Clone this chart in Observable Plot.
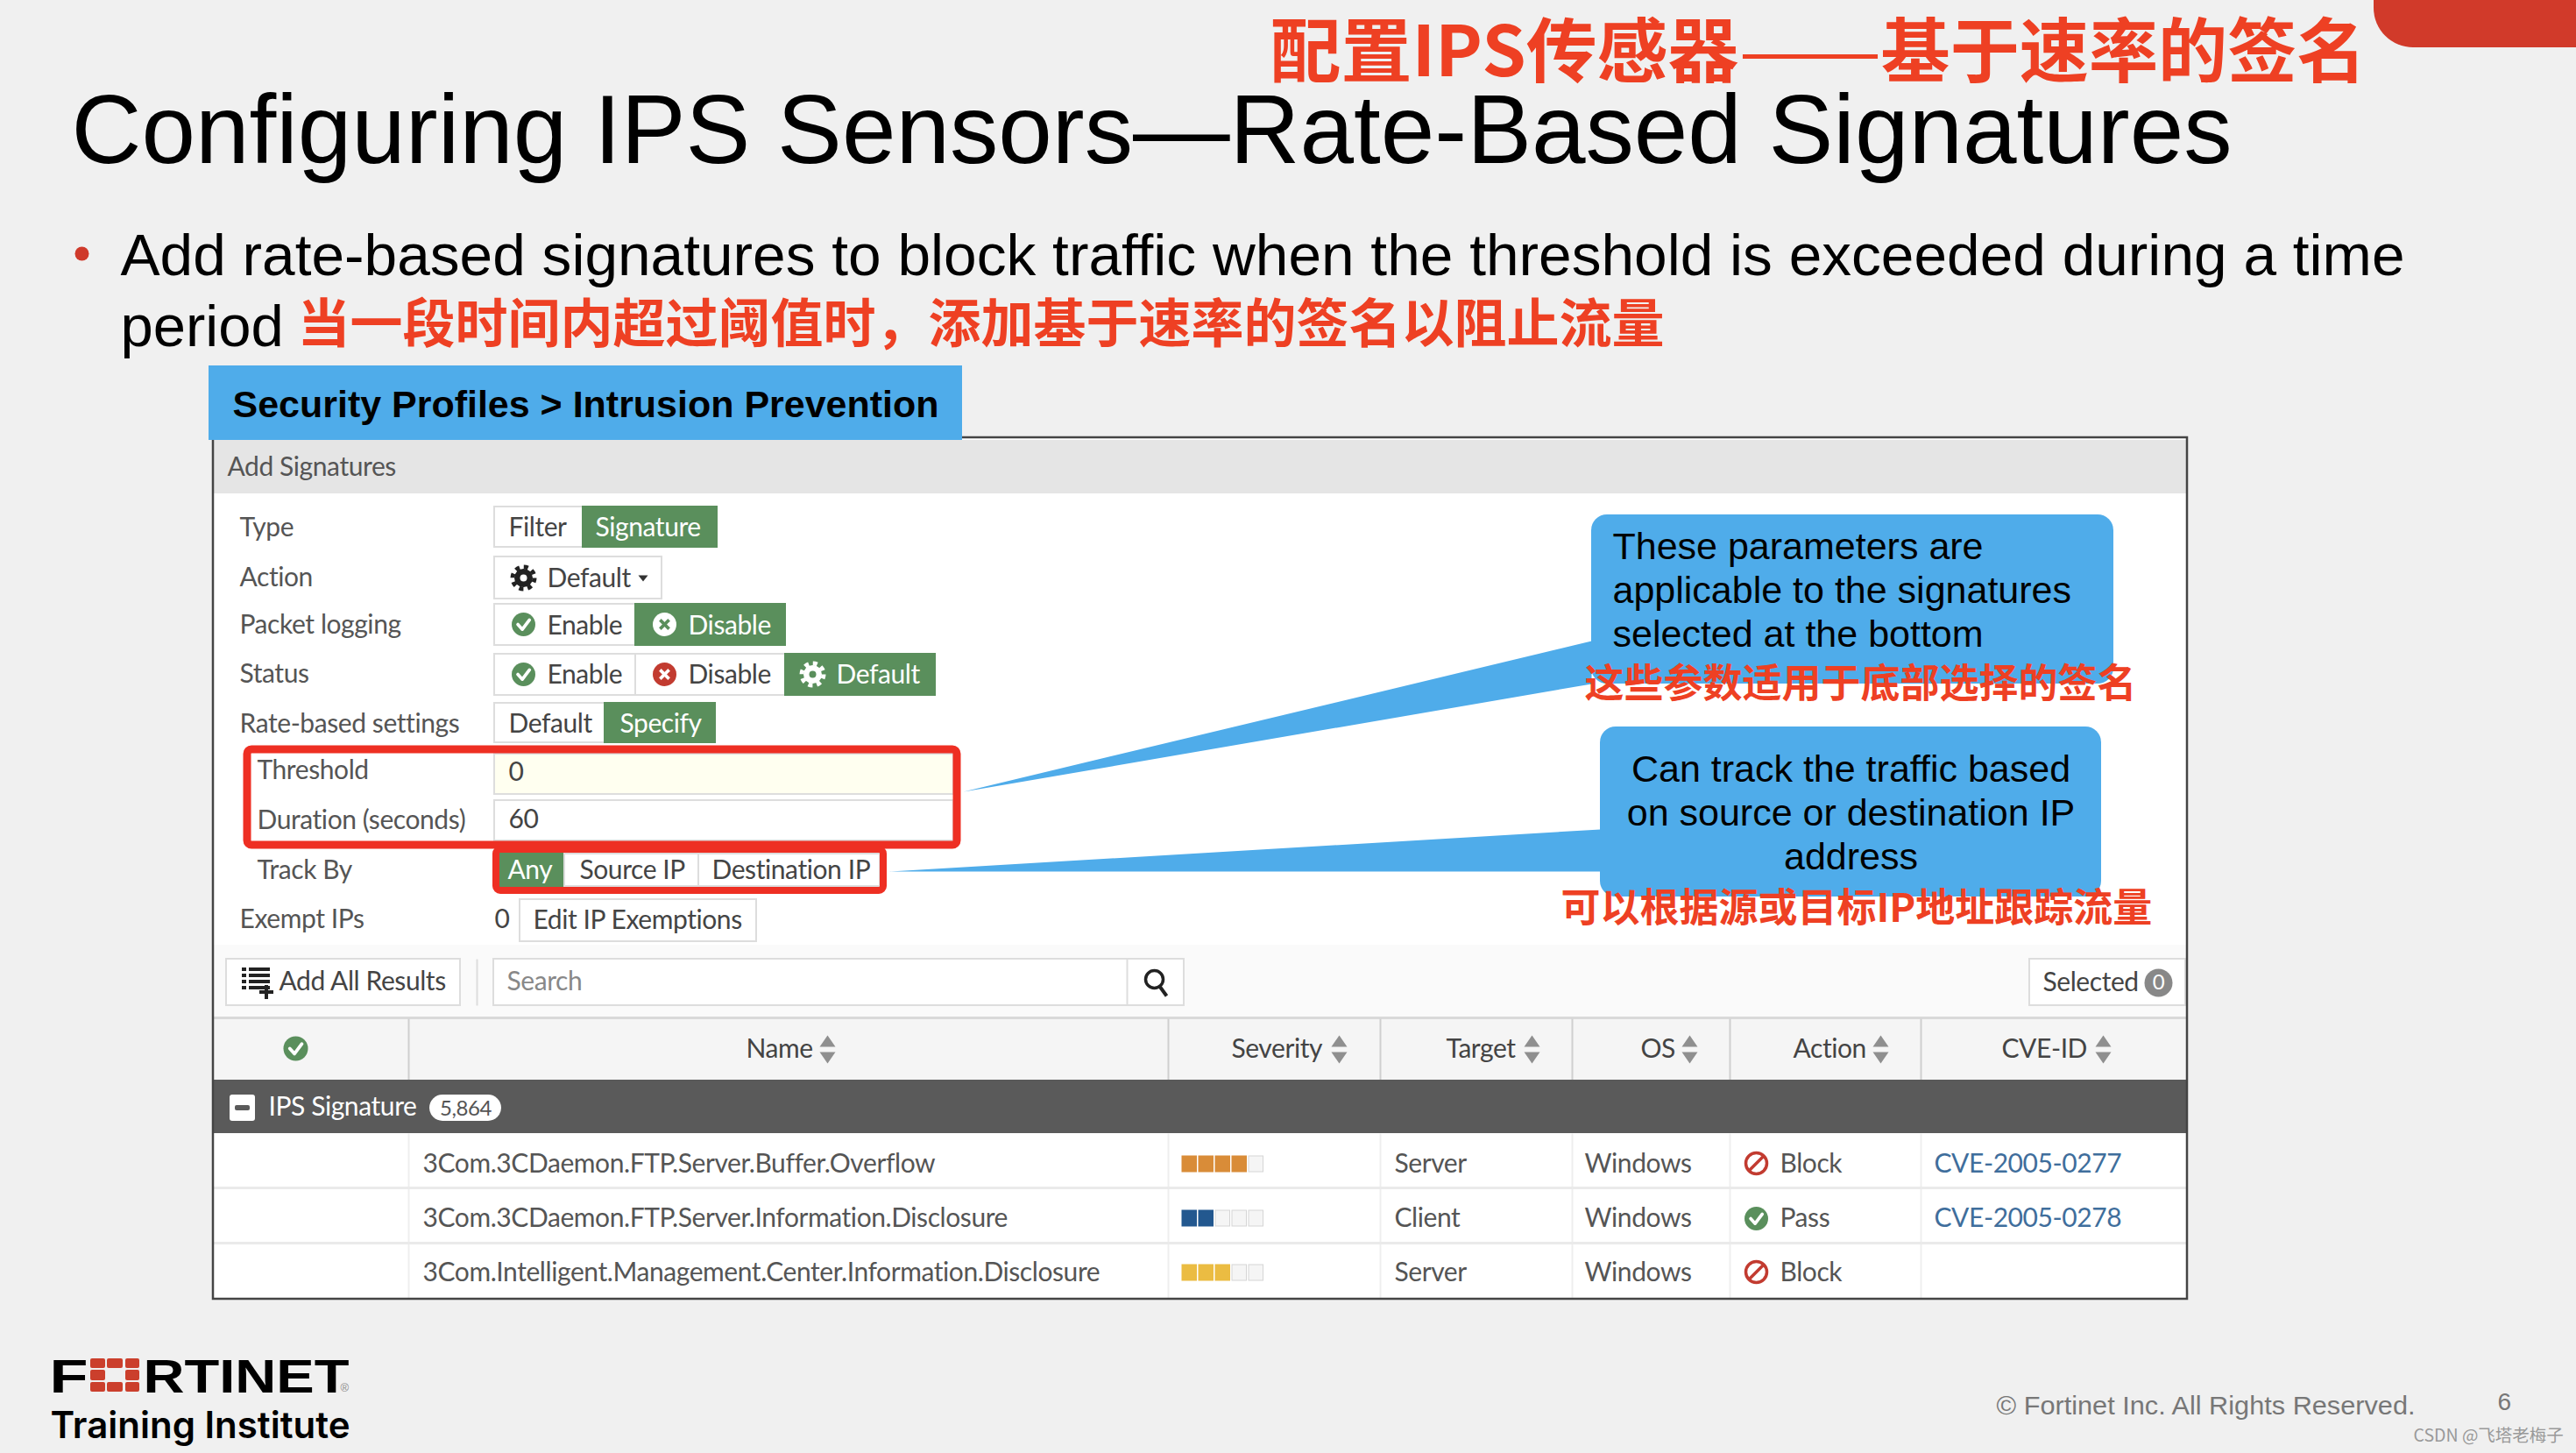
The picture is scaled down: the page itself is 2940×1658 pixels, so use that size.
<!DOCTYPE html>
<html>
<head>
<meta charset="utf-8">
<script src="https://cdn.jsdelivr.net/npm/d3@7"></script>
<script src="https://cdn.jsdelivr.net/npm/@observablehq/plot@0.6"></script>
<style>
  html, body { margin: 0; background: #f0f0f0; overflow: hidden; }
  svg { display: block; }
  g[font-family="Lato"] { letter-spacing: -0.42px; }
</style>
</head>
<body>
<div id="chart"></div>
<script>
// slide texts
const titleEn = 'Configuring IPS Sensors—Rate-Based Signatures'
const titleZh = ['配置IPS传感器', '——', '基于速率的签名']
const bulletLine1 = 'Add rate-based signatures to block traffic when the threshold is exceeded during a time'
const bulletLine2 = 'period'
const bulletZh = '当一段时间内超过阈值时，添加基于速率的签名以阻止流量'
const tabText = 'Security Profiles > Intrusion Prevention'
const panelTitle = 'Add Signatures'

// form
const formLabels = ['Type', 'Action', 'Packet logging', 'Status', 'Rate-based settings', 'Threshold', 'Duration (seconds)', 'Track By', 'Exempt IPs']
const typeOptions = ['Filter', 'Signature']
const actionOptions = ['Default']
const loggingOptions = ['Enable', 'Disable']
const statusOptions = ['Enable', 'Disable', 'Default']
const rateOptions = ['Default', 'Specify']
const trackOptions = ['Any', 'Source IP', 'Destination IP']
const thresholdValue = '0'
const durationValue = '60'
const exemptCount = '0'
const exemptButton = 'Edit IP Exemptions'

// toolbar
const addAllText = 'Add All Results'
const searchText = 'Search'
const selectedText = 'Selected'
const selectedCount = '0'

// signature table
const columns = ['Name', 'Severity', 'Target', 'OS', 'Action', 'CVE-ID']
const groupName = 'IPS Signature'
const groupCount = '5,864'
const names = ['3Com.3CDaemon.FTP.Server.Buffer.Overflow', '3Com.3CDaemon.FTP.Server.Information.Disclosure', '3Com.Intelligent.Management.Center.Information.Disclosure']
const severities = [4, 2, 3]
const targets = ['Server', 'Client', 'Server']
const systems = ['Windows', 'Windows', 'Windows']
const actions = ['Block', 'Pass', 'Block']
const cves = ['CVE-2005-0277', 'CVE-2005-0278', '']

// callouts
const note1 = ['These parameters are', 'applicable to the signatures', 'selected at the bottom']
const note1Zh = '这些参数适用于底部选择的签名'
const note2 = ['Can track the traffic based', 'on source or destination IP', 'address']
const note2Zh = '可以根据源或目标IP地址跟踪流量'

// footer
const logoLetters = ['F', 'RTINET']
const instituteText = 'Training Institute'
const copyrightText = '© Fortinet Inc. All Rights Reserved.'
const pageNumber = '6'
const watermark = 'CSDN @飞塔老梅子'

// colours
const red = '#ee4023'
const boxRed = '#ee2f23'
const blue = '#4facea'
const green = '#5a8f5c'
const severityColor = {4: '#d98c38', 2: '#23588f', 3: '#ebbc42'}

const marks = []

const box = (x1, y1, x2, y2, fill, opts = {}) =>
  marks.push(Plot.rect([{x1, y1, x2, y2}], {x1: 'x1', y1: 'y1', x2: 'x2', y2: 'y2', fill, ...opts}))

const poly = (points, fill) =>
  marks.push(Plot.line(points, {x: d => d[0], y: d => d[1], fill, stroke: 'none'}))

const stroke = (points, color, strokeWidth) =>
  marks.push(Plot.line(points, {x: d => d[0], y: d => d[1], stroke: color, strokeWidth}))

const seg = (x1, y1, x2, y2, color, strokeWidth = 2) =>
  marks.push(Plot.link([{x1, y1, x2, y2}], {x1: 'x1', y1: 'y1', x2: 'x2', y2: 'y2', stroke: color, strokeWidth}))

const disc = (x, y, r, opts) =>
  marks.push(Plot.dot([{x, y}], {x: 'x', y: 'y', r, ...opts}))

// y is the vertical centre of the line; fit squeezes the text to a width
const say = (text, x, y, size, fill, family, {fit, ...opts} = {}) =>
  marks.push(Plot.text([{text, x, y}], {
    x: 'x', y: 'y', text: 'text', fontSize: size, fill, fontFamily: family, textAnchor: 'start',
    className: fit ? `fit-${fit}` : undefined, ...opts
  }))

const arial = 'Liberation Sans'
const cjk = 'Noto Sans CJK SC'
const lato = 'Lato'
const baseline = (y, size) => y - 0.32 * size

const check = (x, y, r, fill = green) => {
  disc(x, y, r, {fill})
  stroke([[x - r * 0.48, y], [x - r * 0.1, y + r * 0.42], [x + r * 0.5, y - r * 0.38]], '#fff', r * 0.27)
}
const cross = (x, y, r, fill, color) => {
  disc(x, y, r, {fill})
  seg(x - r * 0.38, y - r * 0.38, x + r * 0.38, y + r * 0.38, color, r * 0.27)
  seg(x - r * 0.38, y + r * 0.38, x + r * 0.38, y - r * 0.38, color, r * 0.27)
}
const gear = (x, y, color, hole) => {
  disc(x, y, 10.5, {fill: color})
  disc(x, y, 12.5, {stroke: color, strokeWidth: 5, strokeDasharray: '5,4.8', fill: 'none'})
  disc(x, y, 4, {fill: hole})
}
const sortArrows = (x, y) => {
  poly([[x - 9, y - 3], [x + 9, y - 3], [x, y - 16]], '#8f8f8f')
  poly([[x - 9, y + 3], [x + 9, y + 3], [x, y + 16]], '#8f8f8f')
}

// top of the slide
box(2709, -80, 3040, 54, '#d13a2a', {rx: 45})
say(titleEn, 81, baseline(185, 111), 111, '#000', arial, {fit: 2466})
say(titleZh[0], 1449, 61, 80, red, cjk, {fontWeight: 'bold', fit: 535})
say(titleZh[1], 1984, 61, 80, red, cjk, {fit: 163})
say(titleZh[2], 2146, 61, 80, red, cjk, {fontWeight: 'bold', fit: 554})
disc(93, 289, 8, {fill: '#cf3a2b'})
say(bulletLine1, 137, baseline(313, 67), 67, '#000', arial, {fit: 2607})
say(bulletLine2, 137, baseline(394, 67), 67, '#000', arial)
say(bulletZh, 339, 371, 60, red, cjk, {fontWeight: 'bold'})

// panel
box(243, 499, 2496, 1482, '#fff')
box(243, 502, 2496, 563, '#e5e5e5')
say(panelTitle, 259, 533, 30, '#555', lato)

// form
const rowY = [602, 659, 713, 769, 826, 879, 936, 993, 1049]
const labelX = [273, 273, 273, 273, 273, 293, 293, 293, 273]
formLabels.forEach((d, i) => say(d, labelX[i], rowY[i], 30, '#555', lato))

const buttonGroup = (options, edges, y1, y2, active, textX, textY) => {
  options.forEach((d, i) => {
    box(edges[i], y1, edges[i + 1], y2, i === active ? green : '#fff', {stroke: i === active ? green : '#ddd', strokeWidth: 2})
    say(d, textX[i], textY, 30, i === active ? '#fff' : '#444', lato)
  })
}
buttonGroup(typeOptions, [564, 665, 818], 578, 624, 1, [580, 679], 602)
buttonGroup(actionOptions, [564, 755], 635, 683, -1, [624, 0], 660)
gear(597, 659, '#222', '#fff')
poly([[728, 656], [739, 656], [733.5, 663]], '#333')
buttonGroup(loggingOptions, [564, 725, 896], 689, 736, 1, [624, 785], 714)
check(597, 712, 13.5)
cross(758, 712, 13.5, '#fff', green)
buttonGroup(statusOptions, [564, 725, 896, 1067], 746, 793, 2, [624, 785, 954], 770)
check(597, 769, 13.5)
cross(758, 769, 13.5, '#c23b30', '#fff')
gear(927, 769, '#fff', green)
buttonGroup(rateOptions, [564, 690, 816], 802, 847, 1, [580, 707], 826)

box(564, 860, 1088, 906, '#fffff0', {stroke: '#ddd', strokeWidth: 2})
box(564, 913, 1088, 959, '#fff', {stroke: '#ddd', strokeWidth: 2})
say(thresholdValue, 580, 881, 30, '#444', lato)
say(durationValue, 580, 935, 30, '#444', lato)
box(282, 855, 1092, 964, 'none', {stroke: boxRed, strokeWidth: 9, rx: 5})

buttonGroup(trackOptions, [570, 644, 797, 1004], 974, 1011, 0, [579, 661, 812], 993)
box(566, 969, 1008, 1016, 'none', {stroke: boxRed, strokeWidth: 8, rx: 5})

say(exemptCount, 564, 1049, 30, '#444', lato)
box(593, 1026, 863, 1074, '#fff', {stroke: '#ddd', strokeWidth: 2})
say(exemptButton, 608, 1050, 30, '#444', lato)

// toolbar
box(243, 1078, 2496, 1160, '#fafafa')
box(258, 1094, 525, 1147, '#fff', {stroke: '#ddd', strokeWidth: 2})
for (const y of [1106, 1113, 1120, 1127]) {
  box(276, y - 2, 281, y + 2, '#222')
  box(284, y - 2, 308, y + 2, '#222')
}
box(302, 1124, 306, 1140, '#222')
box(296, 1130, 312, 1134, '#222')
say(addAllText, 318, 1120, 30, '#444', lato)
seg(544, 1094, 544, 1147, '#ddd')
box(563, 1094, 1351, 1147, '#fff', {stroke: '#ddd', strokeWidth: 2})
seg(1286, 1094, 1286, 1147, '#ddd')
say(searchText, 578, 1120, 30, '#888', lato)
disc(1317, 1117, 10, {stroke: '#222', strokeWidth: 3.5, fill: 'none'})
seg(1323, 1125, 1331, 1136, '#222', 4)
box(2316, 1094, 2494, 1147, '#fff', {stroke: '#ddd', strokeWidth: 2})
say(selectedText, 2331, 1121, 30, '#444', lato)
disc(2463, 1121, 16, {fill: '#888'})
say(selectedCount, 2463, 1121, 24, '#fff', lato, {textAnchor: 'middle'})

// table
const colEdges = [243, 466, 1333, 1575, 1794, 1974, 2192, 2496]
const headTextX = [851, 1405, 1650, 1872, 2046, 2284]
const headArrowX = [944, 1528, 1748, 1928, 2146, 2400]
const tableRowY = [1328, 1390, 1452]

box(243, 1162, 2496, 1232, '#f5f5f5')
seg(243, 1161, 2496, 1161, '#d9d9d9', 3)
colEdges.slice(1, -1).forEach(x => seg(x, 1162, x, 1232, '#cfcfcf', 2))
check(337, 1196, 14)
columns.forEach((d, i) => {
  say(d, headTextX[i], 1197, 30, '#444', lato)
  sortArrows(headArrowX[i], 1197)
})

colEdges.slice(1, -1).forEach(x => seg(x, 1293, x, 1482, '#eee', 2))
seg(243, 1355, 2496, 1355, '#eaeaea', 3)
seg(243, 1418, 2496, 1418, '#eaeaea', 3)

box(243, 1232, 2496, 1293, '#5a5a5a')
box(262, 1249, 291, 1279, '#fff', {rx: 3})
box(268, 1261, 285, 1267, '#5a5a5a', {rx: 2})
say(groupName, 306, 1263, 30, '#fff', lato)
box(490, 1249, 572, 1279, '#fff', {rx: 15})
say(groupCount, 531, 1265, 24, '#555', lato, {textAnchor: 'middle'})

// severity squares come straight from the severity values
const squareW = 19
const squares = severities.flatMap((s, row) => d3.range(5).map(i => ({
  x1: 1349 + i * squareW, x2: 1349 + (i + 1) * squareW - 2.5,
  y1: tableRowY[row] - 9, y2: tableRowY[row] + 9,
  fill: i < s ? severityColor[s] : '#f5f5f5',
  stroke: i < s ? severityColor[s] : '#d5d5d5'
})))
marks.push(Plot.rect(squares, {x1: 'x1', x2: 'x2', y1: 'y1', y2: 'y2', fill: 'fill', stroke: 'stroke', strokeWidth: 1}))

names.forEach((d, i) => {
  const y = tableRowY[i]
  say(d, 482, y, 30, '#555', lato)
  say(targets[i], 1591, y, 30, '#555', lato)
  say(systems[i], 1808, y, 30, '#555', lato)
  if (actions[i] === 'Block') {
    disc(2004, y - 1, 12, {stroke: '#c23b30', strokeWidth: 3.5, fill: 'none'})
    seg(1996, y + 7, 2012, y - 9, '#c23b30', 3.5)
  } else {
    check(2004, y, 13.5)
  }
  say(actions[i], 2031, y, 30, '#555', lato)
  if (cves[i]) say(cves[i], 2207, y, 30, '#3f6e9c', lato)
})

box(243, 499, 2496, 1482, 'none', {stroke: '#444', strokeWidth: 2.5})
box(238, 417, 1098, 502, blue)
say(tabText, 265, baseline(475, 43), 43, '#000', arial, {fontWeight: 'bold', fit: 806})

// callouts
poly([[1099, 903], [1816, 731], [1816, 780]], blue)
box(1816, 587, 2412, 780, blue, {rx: 18})
note1.forEach((d, i) => say(d, 1840, baseline(637 + i * 50, 43), 43, '#000', arial))
say(note1Zh, 1808, 781, 45, red, cjk, {fontWeight: 'bold'})

poly([[1014, 994], [1826, 946], [1826, 994]], blue)
box(1826, 829, 2398, 1023, blue, {rx: 18})
note2.forEach((d, i) => say(d, 2112, baseline(891 + i * 50, 43), 43, '#000', arial, {textAnchor: 'middle'}))
say(note2Zh, 1781, 1037, 45, red, cjk, {fontWeight: 'bold'})

// logo
say(logoLetters[0], 56, 1571, 54, '#000', arial, {fontWeight: 'bold', fit: 44})
const gridX = [[103, 120], [122, 140], [143, 159]]
const gridY = [[1550, 1561], [1563, 1575], [1577, 1588]]
gridX.forEach((gx, c) => gridY.forEach((gy, r) => {
  if (c !== 1 || r !== 1) box(gx[0], gy[0], gx[1], gy[1], '#cb3f2c', {rx: 2})
}))
say(logoLetters[1], 163, 1571, 54, '#000', arial, {fontWeight: 'bold', fit: 235})
say('®', 388, 1583, 13, '#888', arial)
say(instituteText, 57, baseline(1640, 42), 42, '#000', 'Inter', {fontWeight: 600})

// footer
say(copyrightText, 2278, baseline(1613, 30), 30, '#777', arial, {fit: 478})
say(pageNumber, 2850, baseline(1608, 28), 28, '#777', arial)
say(watermark, 2754, 1638, 19.5, '#999', cjk)

const chart = Plot.plot({
  width: 2940,
  height: 1658,
  margin: 0,
  x: {domain: [0, 2940], range: [0, 2940], axis: null},
  y: {domain: [0, 1658], range: [0, 1658], axis: null},
  color: {type: 'identity'},
  style: {background: '#f0f0f0'},
  marks
})

document.querySelector('#chart').append(chart)

// texts with a fixed width in the slide
d3.select(chart).selectAll('[class*="fit-"]').each(function () {
  const width = this.getAttribute('class').match(/fit-(\d+)/)[1]
  d3.select(this).selectAll('text').attr('textLength', width).attr('lengthAdjust', 'spacingAndGlyphs')
})
</script>
</body>
</html>
